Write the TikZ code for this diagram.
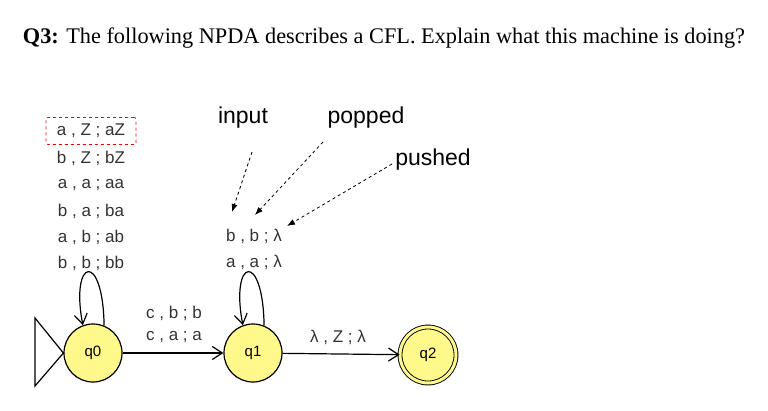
\documentclass[tikz,border=0pt]{standalone}
\usepackage{fontspec}
\setmainfont{Liberation Serif}
\newfontfamily\lsans{Liberation Sans}
\usetikzlibrary{arrows.meta}
\begin{document}
\begin{tikzpicture}[x=1pt,y=-1pt,line width=1.2pt,
  st/.style={circle,draw,fill=yellow!45,minimum size=58pt,inner sep=0pt,font=\lsans\fontsize{15}{15}\selectfont},
  lab/.style={font=\lsans\fontsize{17}{17}\selectfont,text=black!80,inner sep=1pt},
  ann/.style={font=\lsans\fontsize{23}{23}\selectfont,inner sep=1pt},
  tr/.style={-{Straight Barb[length=10pt,width=13pt]}},
  da/.style={line width=0.8pt,dashed,-{Latex[length=8pt,width=6pt]}}]
\useasboundingbox (0,0) rectangle (768,410);
\node[font=\fontsize{22.3}{22.3}\selectfont,anchor=west] (title) at (19,38) {\textbf{Q3:} The following NPDA describes a CFL. Explain what this machine is doing?};
\node[st] (q0) at (93,353) {q0};
\node[st] (q1) at (253,353) {q1};
\node[st,minimum size=56pt,double=yellow!45,double distance=3pt,line width=0.9pt] (q2) at (428,355) {q2};
\coordinate (i1) at (35,318); \coordinate (i2) at (35,386);
\draw (i1) -- (q0.west) -- (i2) -- cycle;
\draw[tr] (q0) -- (q1);
\draw[tr] (q1) -- (q2);
\draw[tr] (q0.68) .. controls (103,250) and (70,258) .. (q0.110);
\draw[tr] (q1.68) .. controls (263,250) and (230,258) .. (q1.110);
\node[lab] (l1) at (91,131) {a , Z ; aZ};
\node[draw=red,line width=0.7pt,dashed,rounded corners=2pt,minimum width=90pt,minimum height=27pt] (box) at (91,131) {};
\node[lab] (l2) at (91,158) {b , Z ; bZ};
\node[lab] (l3) at (91,185) {a , a ; aa};
\node[lab] (l4) at (91,211) {b , a ; ba};
\node[lab] (l5) at (91,237) {a , b ; ab};
\node[lab] (l6) at (91,263) {b , b ; bb};
\node[lab] (m1) at (254,236) {b , b ; λ};
\node[lab] (m2) at (254,262) {a , a ; λ};
\node[lab] (e1) at (174,313) {c , b ; b};
\node[lab] (e2) at (174,337) {c , a ; a};
\node[lab] (e3) at (338,337) {λ , Z ; λ};
\node[ann] (in) at (243,118) {input};
\node[ann] (po) at (366,118) {popped};
\node[ann] (pu) at (433,160) {pushed};
\coordinate (a1) at (232,212); \coordinate (a2) at (255,215); \coordinate (a3) at (287,226);
\draw[da] (252,152) -- (a1);
\draw[da] (323,142) -- (a2);
\draw[da] (392,164) -- (a3);
\end{tikzpicture}
\end{document}
